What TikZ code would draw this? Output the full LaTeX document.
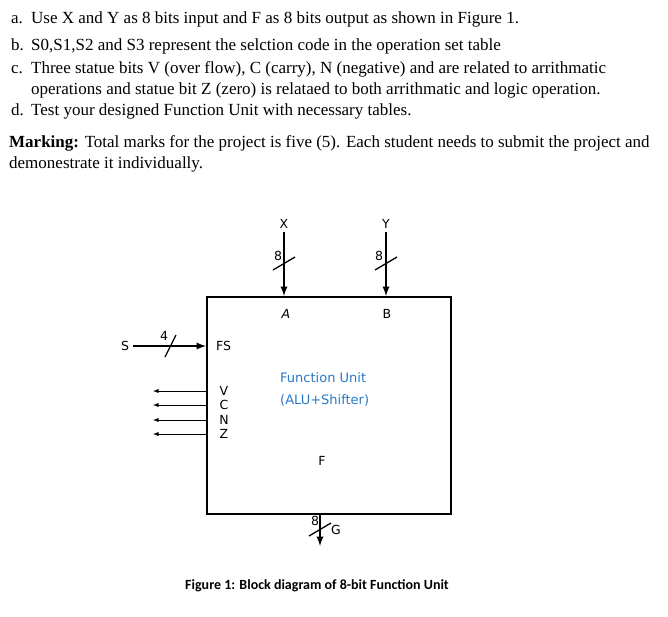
\documentclass[tikz,border=0pt]{standalone}
\usepackage{fontspec}
\setmainfont{Liberation Serif}
\newfontfamily\dfont{DejaVu Sans}
\newfontfamily\capfont{Carlito}
\definecolor{fublue}{RGB}{40,120,200}
\begin{document}
\begin{tikzpicture}[x=1pt,y=-1pt,
  txt/.style={anchor=base west,inner sep=0,font=\fontsize{17}{19}\selectfont},
  lbl/.style={inner sep=0,font=\dfont\fontsize{12.5}{14}\selectfont},
  bus/.style={line width=2.2pt,-latex},
  flag/.style={line width=0.9pt,-latex}]
\useasboundingbox (0,0) rectangle (668,616);
\node[txt] (la) at (11,23) {a.};
\node[txt] (ta) at (31,23) {Use X and Y as 8 bits input and F as 8 bits output as shown in Figure 1.};
\node[txt] (lb) at (11,50) {b.};
\node[txt] (tb) at (31,50) {S0,S1,S2 and S3 represent the selction code in the operation set table};
\node[txt] (lc) at (11,73) {c.};
\node[txt] (tc) at (31,73) {Three statue bits V (over flow), C (carry), N (negative) and are related to arrithmatic};
\node[txt] (tc2) at (31,94) {operations and statue bit Z (zero) is relataed to both arrithmatic and logic operation.};
\node[txt] (ld) at (11,115) {d.};
\node[txt] (td) at (31,115) {Test your designed Function Unit with necessary tables.};
\node[txt] (m1) at (9,147) {\textbf{Marking:} Total marks for the project is five (5). Each student needs to submit the project and};
\node[txt] (m2) at (9,168) {demonestrate it individually.};

\node[draw,line width=2.2pt,minimum width=244pt,minimum height=217pt,anchor=north west,inner sep=0] (fu) at (206,296) {};
\node[lbl] (X) at (284,224) {X};
\node[lbl] (Y) at (386,224) {Y};
\coordinate (Xa) at (284,232);
\coordinate (Ya) at (386,232);
\draw[bus] (Xa) -- (Xa |- fu.north);
\draw[bus] (Ya) -- (Ya |- fu.north);
\draw[line width=1.3pt] (273,270) -- (295,257);
\draw[line width=1.3pt] (375,270) -- (397,257);
\node[lbl] (x8) at (278,256) {8};
\node[lbl] (y8) at (379,256) {8};
\node[lbl] (A) at (286,314) {\itshape A};
\node[lbl] (B) at (387,314) {B};
\node[lbl] (S) at (125,346) {S};
\coordinate (Sa) at (133,346);
\draw[bus] (Sa) -- (Sa -| fu.west);
\draw[line width=1.3pt] (165,357) -- (176,335);
\node[lbl] (s4) at (164,336) {4};
\node[lbl,anchor=west] (FS) at (216,346) {FS};
\foreach \y/\t in {391/V,405/C,420/N,434/Z}{
  \coordinate (f\t) at (206,\y);
  \coordinate (e\t) at (153,\y);
  \draw[flag] (f\t) -- (e\t);
  \node[lbl] (l\t) at (224,\y) {\t};
}
\node[lbl,text=fublue,align=left,anchor=west,font=\dfont\fontsize{13}{22}\selectfont] (name) at (280,389) {Function Unit\\(ALU+Shifter)};
\node[lbl] (F) at (322,461) {F};
\coordinate (Go) at (320,546);
\draw[bus] (fu.south -| Go) -- (Go);
\draw[line width=1.3pt] (309,536) -- (331,523);
\node[lbl] (g8) at (315,521) {8};
\node[lbl] (G) at (336,530) {G};
\node[inner sep=0,font=\capfont\bfseries\fontsize{14}{16}\selectfont] (cap) at (317,586) {Figure 1: Block diagram of 8-bit Function Unit};
\end{tikzpicture}
\end{document}
